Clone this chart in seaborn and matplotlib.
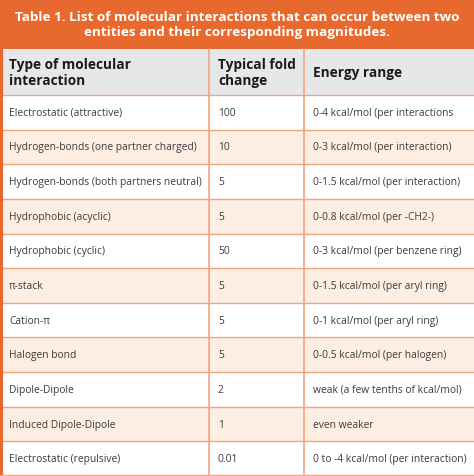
import matplotlib.pyplot as plt
import seaborn as sns
from matplotlib.patches import Rectangle

sns.set_theme(style="white")
plt.rcParams['font.family'] = ['Open Sans', 'DejaVu Sans']

title = "Table 1. List of molecular interactions that can occur between two\nentities and their corresponding magnitudes."
headers = ["Type of molecular\ninteraction", "Typical fold\nchange", "Energy range"]
interactions = ["Electrostatic (attractive)", "Hydrogen-bonds (one partner charged)",
                "Hydrogen-bonds (both partners neutral)", "Hydrophobic (acyclic)",
                "Hydrophobic (cyclic)", "\u03c0-stack", "Cation-\u03c0", "Halogen bond",
                "Dipole-Dipole", "Induced Dipole-Dipole", "Electrostatic (repulsive)"]
fold_change = ["100", "10", "5", "5", "50", "5", "5", "5", "2", "1", "0.01"]
energy = ["0-4 kcal/mol (per interactions", "0-3 kcal/mol (per interaction)",
          "0-1.5 kcal/mol (per interaction)", "0-0.8 kcal/mol (per -CH2-)",
          "0-3 kcal/mol (per benzene ring)", "0-1.5 kcal/mol (per aryl ring)",
          "0-1 kcal/mol (per aryl ring)", "0-0.5 kcal/mol (per halogen)",
          "weak (a few tenths of kcal/mol)", "even weaker", "0 to -4 kcal/mol (per interaction)"]

orange = "#e8692e"
peach = "#fdeee4"
gray = "#e6e7e9"
text_c = "#3b3b3b"
col_x = [0, 209, 304, 474]
W, H = 474, 477
top_h, head_h = 50, 46
row_h = (H - top_h - head_h) / len(interactions)

fig = plt.figure(figsize=(4.74, 4.77), dpi=100)
ax = fig.add_axes([0, 0, 1, 1])
ax.set_xlim(0, W)
ax.set_ylim(H, 0)
ax.axis("off")

ax.add_patch(Rectangle((0, 0), W, top_h, color=orange, lw=0))
ax.text(W / 2, top_h / 2, title, ha="center", va="center", color="white",
        fontsize=9.7, fontweight="bold", linespacing=1.25)

ax.add_patch(Rectangle((0, top_h), W, head_h, color=gray, lw=0))
for j, h in enumerate(headers):
    ax.text(col_x[j] + 9, top_h + head_h / 2, h, ha="left", va="center",
            color="#1a1a1a", fontsize=9.8, fontweight="bold", linespacing=1.1)

for i, cells in enumerate(zip(interactions, fold_change, energy)):
    y0 = top_h + head_h + i * row_h
    ax.add_patch(Rectangle((0, y0), W, row_h, color="white" if i % 2 == 0 else peach, lw=0))
    for j, c in enumerate(cells):
        ax.text(col_x[j] + 9, y0 + row_h / 2, c, ha="left", va="center",
                color=text_c, fontsize=7.4)
    ax.axhline(y0, color="#f0a57c", lw=1)

for x in col_x[1:3]:
    ax.plot([x, x], [top_h, H], color="#f0a57c", lw=1.2)
ax.plot([1.5, 1.5], [top_h, H], color=orange, lw=3)
ax.axhline(H - 1, color="#f0a57c", lw=1)

fig.savefig("out.png", dpi=100)
